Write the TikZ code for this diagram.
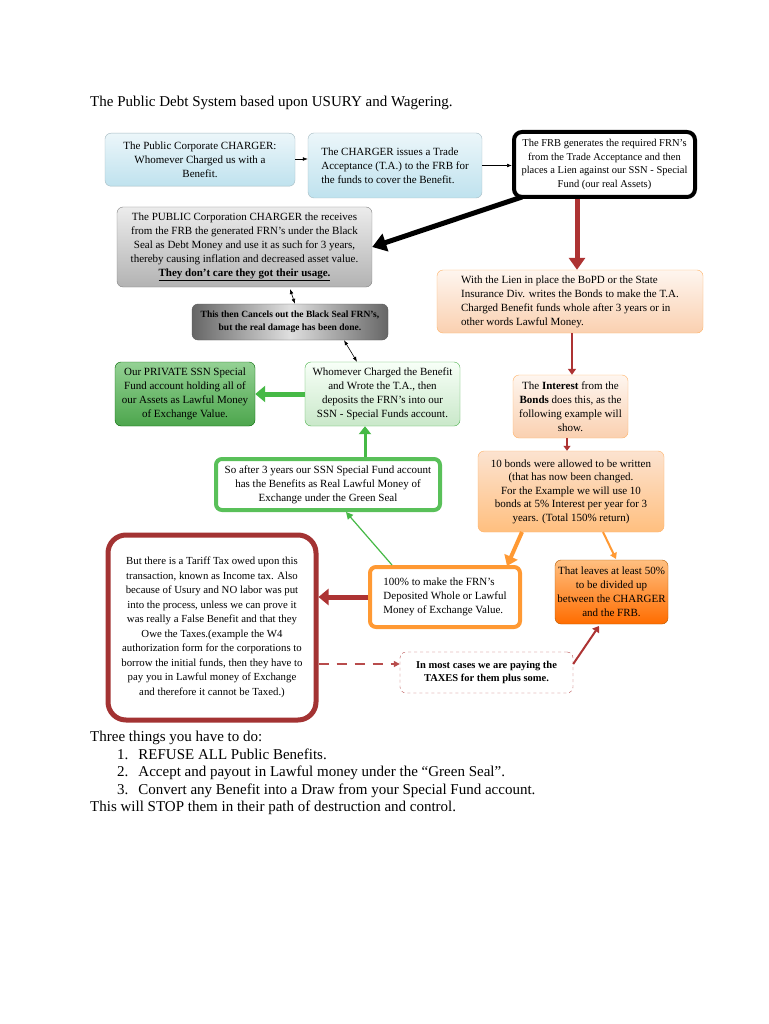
\documentclass[tikz,border=0pt]{standalone}
\usepackage{fontspec}
\setmainfont{Liberation Serif}
\usetikzlibrary{arrows.meta}
\definecolor{lblue}{HTML}{BFE2EE}
\definecolor{lorange}{HTML}{FAD0B0}
\begin{document}
\begin{tikzpicture}[x=1pt,y=-1pt,
 bx/.style={draw,rounded corners=6pt,align=center,font=\fontsize{11}{14}\selectfont,inner sep=1pt},
 blu/.style={bx,draw=lblue!60!gray,top color=lblue!30,bottom color=lblue},
 org/.style={bx,draw=orange!60,top color=lorange!20,bottom color=lorange},
 thinarr/.style={-{Latex[length=5pt]},line width=0.6pt},
 dbl/.style={{Latex[length=5pt]}-{Latex[length=5pt]},line width=0.6pt}]
\useasboundingbox (0,0) rectangle (768,1024);
\fill[white] (0,0) rectangle (768,1024);
\node[anchor=west,font=\fontsize{15}{17}\selectfont,inner sep=0] (title) at (90,103) {The Public Debt System based upon USURY and Wagering.};
\node[blu,minimum width=190,minimum height=53,anchor=north] (b1) at (200,133) {The Public Corporate CHARGER:\\Whomever Charged us with a\\Benefit.};
\node[blu,minimum width=174,minimum height=65,align=left] (b2) at (395,165.5) {The CHARGER issues a Trade\\Acceptance (T.A.) to the FRB for\\the funds to cover the Benefit.};
\node[bx,draw=black,line width=4pt,minimum width=181,minimum height=65,rounded corners=8pt,inner sep=0pt,font=\fontsize{10.5}{13.5}\selectfont] (b3) at (604.5,164.5) {The FRB generates the required FRN's\\from the Trade Acceptance and then\\places a Lien against our SSN - Special\\Fund (our real Assets)};
\node[bx,draw=gray,top color=gray!15,bottom color=gray!60,minimum width=255,minimum height=80] (b4) at (244.5,247) {The PUBLIC Corporation CHARGER the receives\\from the FRB the generated FRN's under the Black\\Seal as Debt Money and use it as such for 3 years,\\thereby causing inflation and decreased asset value.\\\textbf{\underline{They don't care they got their usage.}}};
\node[bx,draw=gray!70!black,shading=axis,left color=gray!80!black,right color=gray!80!black,middle color=gray!25,minimum width=196,minimum height=36,font=\fontsize{9.5}{12.5}\selectfont\bfseries] (b5) at (290,322) {This then Cancels out the Black Seal FRN's,\\but the real damage has been done.};
\node[org,minimum width=266,minimum height=63,align=left] (b6) at (570,301.5) {With the Lien in place the BoPD or the State\\Insurance Div. writes the Bonds to make the T.A.\\Charged Benefit funds whole after 3 years or in\\other words Lawful Money.};
\node[bx,draw=green!40!black,top color=green!40!gray!60,bottom color=green!50!black!70,minimum width=140,minimum height=64] (b7) at (185,394) {Our PRIVATE SSN Special\\Fund account holding all of\\our Assets as Lawful Money\\of Exchange Value.};
\node[bx,draw=green!40!gray,top color=green!3,bottom color=green!40!gray!30,minimum width=155,minimum height=64] (b8) at (382.5,394) {Whomever Charged the Benefit\\and Wrote the T.A., then\\deposits the FRN's into our\\SSN - Special Funds account.};
\node[org,minimum width=115,minimum height=63] (b9) at (570.5,406.5) {The \textbf{Interest} from the\\\textbf{Bonds} does this, as the\\following example will\\show.};
\node[org,top color=lorange!60,bottom color=orange!50,minimum width=186,minimum height=81,font=\fontsize{11}{13.5}\selectfont] (b10) at (571,491.5) {10 bonds were allowed to be written\\(that has now been changed.\\For the Example we will use 10\\bonds at 5\% Interest per year for 3\\years. (Total 150\% return)};
\node[bx,draw=green!45!gray!90,line width=4pt,fill=white,minimum width=224,minimum height=51] (b11) at (328,484.5) {So after 3 years our SSN Special Fund account\\has the Benefits as Real Lawful Money of\\Exchange under the Green Seal};
\node[bx,draw=red!55!black!80,line width=5pt,fill=white,rounded corners=18pt,minimum width=208,minimum height=185,font=\fontsize{10.8}{14.5}\selectfont] (b12) at (212,627.5) {But there is a Tariff Tax owed upon this\\transaction, known as Income tax. Also\\because of Usury and NO labor was put\\into the process, unless we can prove it\\was really a False Benefit and that they\\Owe the Taxes.(example the W4\\authorization form for the corporations to\\borrow the initial funds, then they have to\\pay you in Lawful money of Exchange\\and therefore it cannot be Taxed.)};
\node[bx,draw=orange!80,line width=4pt,fill=white,align=left,minimum width=150,minimum height=60,inner sep=0pt] (b13) at (445,597) {100\% to make the FRN's\\Deposited Whole or Lawful\\Money of Exchange Value.};
\node[bx,draw=orange!70!black,top color=orange!50,bottom color=orange!85!red,minimum width=113,minimum height=64] (b14) at (611.5,592) {That leaves at least 50\%\\to be divided up\\between the CHARGER\\and the FRB.};
\node[bx,draw=red!60!black!70,dashed,fill=white,minimum width=173,minimum height=41,font=\fontsize{10.5}{13}\selectfont\bfseries] (b15) at (486.5,672.5) {In most cases we are paying the\\TAXES for them plus some.};
% connectors
\draw[thinarr] (b1.east|-0,159) -- (b2.west|-0,159);
\draw[thinarr] (b2.east) -- (b3.west|-b2.east);
\draw[line width=5pt,-{Triangle[length=14pt,width=18pt]}] (522,197) -- (b4.east);
\draw[line width=5pt,red!60!black!80,-{Triangle[length=12pt,width=16pt]}] (577,199) -- (b6.north-|577,0);
\draw[dbl] (290,289) -- (b5.north-|295,0);
\draw[dbl] (b5.south-|344,0) -- (b8.north-|357,0);
\draw[line width=5pt,green!45!gray,-{Triangle[length=10pt,width=16pt]}] (b8.west) -- (b7.east);
\draw[line width=3pt,green!45!gray,-{Triangle[length=8pt,width=12pt]}] (b11.north-|365,0) -- (b8.south-|365,0);
\draw[line width=1.2pt,green!45!gray,-{Triangle[length=7pt,width=7pt]}] (b13.north-|392,0) -- (b11.south-|346,0);
\draw[line width=2pt,red!60!black!80,-{Triangle[length=6pt,width=8pt]}] (b6.south-|572,0) -- (b9.north-|572,0);
\draw[line width=2pt,red!60!black!80,-{Triangle[length=5pt,width=7pt]}] (b9.south-|567,0) -- (b10.north-|567,0);
\draw[line width=4pt,orange!80,-{Triangle[length=10pt,width=14pt]}] (522,532) -- (507,566);
\draw[line width=2pt,orange!80,-{Triangle[length=6pt,width=7pt]}] (603,532) -- (616,559);
\draw[line width=5pt,red!60!black!80,-{Triangle[length=10pt,width=16pt]}] (b13.west) -- (b12.east|-b13.west);
\draw[line width=1.5pt,red!60!black!70,dash pattern=on 10pt off 8pt,-{Triangle[length=6pt,width=6pt]}] (b12.east|-0,664) -- (b15.west|-0,664);
\draw[line width=2pt,red!60!black!80,-{Triangle[length=6pt,width=8pt]}] (b15.east|-0,664) -- (599,626);
% bottom text
\node[anchor=north west,align=left,font=\fontsize{15}{17.5}\selectfont,inner sep=0] (list) at (90,731) {Three things you have to do:\\
\hspace*{27pt}1.\hspace{10pt}REFUSE ALL Public Benefits.\\
\hspace*{27pt}2.\hspace{10pt}Accept and payout in Lawful money under the ``Green Seal''.\\
\hspace*{27pt}3.\hspace{10pt}Convert any Benefit into a Draw from your Special Fund account.\\
This will STOP them in their path of destruction and control.};
\end{tikzpicture}
\end{document}
